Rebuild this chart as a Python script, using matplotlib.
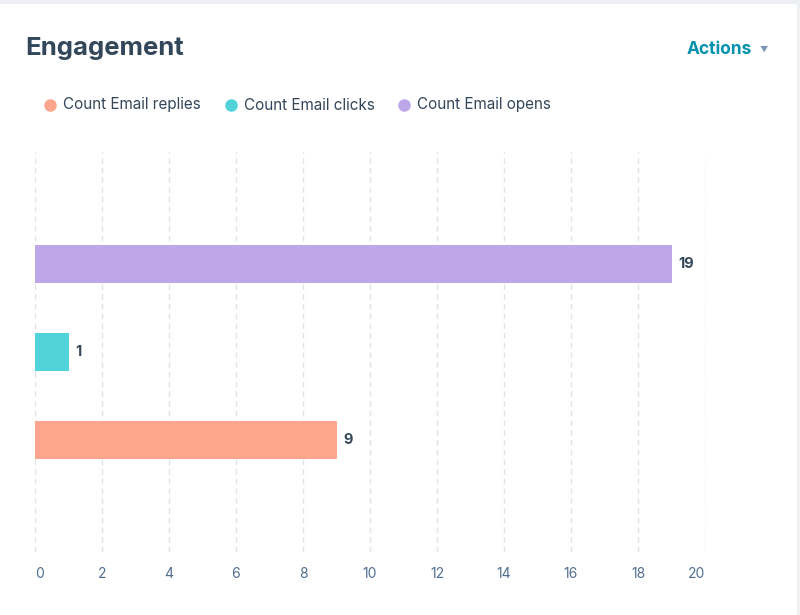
import matplotlib.pyplot as plt
from matplotlib.patches import Rectangle
from matplotlib.lines import Line2D

# DATA
series = ['Count Email replies', 'Count Email clicks', 'Count Email opens']
values = [9, 1, 19]
colors = ['#fea58e', '#51d3d9', '#bda7e9']
xticks = list(range(0, 21, 2))

plt.rcParams['font.family'] = ['Inter', 'DejaVu Sans']

fig = plt.figure(figsize=(8, 6.15), dpi=100)
fig.patch.set_facecolor('white')

# light frame of the card
fig.patches.append(Rectangle((0, 0.9955), 1, 0.0045, transform=fig.transFigure,
                             color='#eef0f4', zorder=0))
fig.patches.append(Rectangle((0.9965, 0), 0.0035, 1, transform=fig.transFigure,
                             color='#eef0f4', zorder=0))

ax = fig.add_axes([0.04375, 0.1024, 0.8375, 0.6504])
pos = range(len(series))
ax.barh(pos, values, height=0.43, color=colors, zorder=3)
for p, v in zip(pos, values):
    ax.text(v + 0.2, p, str(v), va='center', ha='left', fontsize=10.5,
            fontweight='bold', color='#33475b')

ax.set_xlim(0, 20)
ax.set_ylim(-1.265, 3.265)
ax.set_xticks(xticks)
ax.set_xticklabels([str(t) for t in xticks], fontsize=10, color='#516f90')
ax.set_yticks([])
ax.tick_params(axis='x', length=0, pad=11)
labels = ax.get_xticklabels()
labels[0].set_horizontalalignment('left')
labels[-1].set_horizontalalignment('right')
for s in ax.spines.values():
    s.set_visible(False)
ax.grid(axis='x', color='#dfe3eb', linestyle=(0, (4, 3)), linewidth=1, zorder=0)

# header
fig.text(25 / 800, 1 - 49 / 615, 'Engagement', fontsize=18.5, fontweight='bold',
         color='#33475b', va='center', ha='left')
fig.text(752 / 800, 1 - 49 / 615, 'Actions', fontsize=12.5, fontweight='bold',
         color='#0091ae', va='center', ha='right')
fig.text(764 / 800, 1 - 49 / 615, '\u25bc', fontsize=6, color='#7c98b6',
         va='center', ha='center')

# legend
leg_x = [50, 231, 404]
for x, name, c in zip(leg_x, series, colors):
    fig.add_artist(Line2D([x / 800], [1 - 105 / 615], marker='o', markersize=8,
                          color=c, linestyle='none', transform=fig.transFigure))
    fig.text((x + 13) / 800, 1 - 105 / 615, name, fontsize=11, color='#33475b',
             va='center', ha='left')

fig.savefig('out.png', dpi=100)
